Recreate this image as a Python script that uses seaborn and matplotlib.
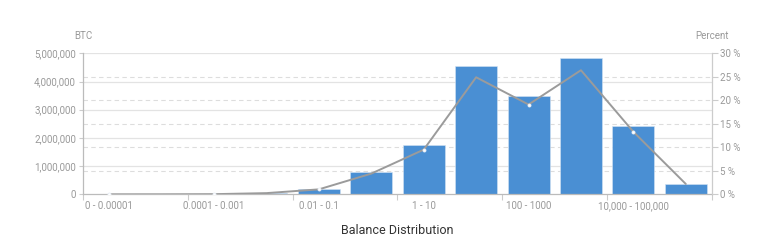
import matplotlib
matplotlib.use("Agg")
import matplotlib.pyplot as plt
import seaborn as sns
import numpy as np
from matplotlib.ticker import FuncFormatter, FixedLocator, MultipleLocator

categories = ["0 - 0.00001", "0.00001 - 0.0001", "0.0001 - 0.001", "0.001 - 0.01",
              "0.01 - 0.1", "0.1 - 1", "1 - 10", "10 - 100", "100 - 1000",
              "1,000 - 10,000", "10,000 - 100,000", "100,000 - 1,000,000"]
btc = [0, 0, 3000, 40000, 190000, 790000, 1750000, 4560000, 3500000,
       4840000, 2430000, 365000]
percent = [0.0, 0.003, 0.03, 0.25, 1.05, 4.4, 9.5, 24.9, 19.1, 26.4, 13.3, 2.2]
shown_labels = ["0 - 0.00001", "0.0001 - 0.001", "0.01 - 0.1", "1 - 10",
                "100 - 1000", "10,000 - 100,000"]

sns.set_theme(style="white")
plt.rcParams['font.family'] = ['Roboto', 'DejaVu Sans']

fig = plt.figure(figsize=(7.68, 2.5), dpi=100)
ax = fig.add_axes([83/768, 1-194.3/250, (712-83)/768, (194.3-53.3)/250])
ax2 = ax.twinx()

grey = "#999999"
BTC_MAX = 5000000
PCT_MAX = 30
ax.set_ylim(0, BTC_MAX)
ax2.set_ylim(0, PCT_MAX)
ax.set_xlim(-0.5, len(categories) - 0.5)

# grids (both drawn behind the bars on the primary axis)
for v in range(1000000, BTC_MAX + 1, 1000000):
    ax.axhline(v, color="#e3e3e3", lw=0.9, zorder=0)
for p in range(5, PCT_MAX, 5):
    ax.axhline(p / PCT_MAX * BTC_MAX, color="#dddddd", lw=0.8, ls=(0, (4, 3)), zorder=0)

sns.barplot(x=categories, y=btc, ax=ax, color="#4a8fd3", saturation=1,
            width=0.8, edgecolor="#d4e3f3", linewidth=0.4, zorder=2)
ax.set_xlim(-0.5, len(categories) - 0.5)

sns.pointplot(x=categories, y=percent, ax=ax2, color="#9b9b9b", markers="o",
              markersize=2.2, linewidth=1.4, markerfacecolor="white",
              markeredgecolor="#e8eef6", markeredgewidth=0.6, markevery=2, zorder=3)
ax2.set_xlim(-0.5, len(categories) - 0.5)
ax2.set_ylim(0, PCT_MAX)

# x ticks
pos = [categories.index(l) for l in shown_labels]
ax.xaxis.set_major_locator(FixedLocator(pos))
ax.set_xticklabels(shown_labels)
ax.xaxis.set_minor_locator(FixedLocator(np.arange(-0.5, len(categories), 2)))
ax.tick_params(axis="x", which="major", length=0, pad=5, labelsize=7, labelcolor=grey)
ax.tick_params(axis="x", which="minor", length=4, width=0.8, color="#cccccc", bottom=True)

ax.yaxis.set_major_locator(MultipleLocator(1000000))
ax.yaxis.set_major_formatter(FuncFormatter(lambda v, p: f"{int(v):,}"))
ax.tick_params(axis="y", length=3, width=0.8, color="#cccccc", labelsize=7,
               labelcolor=grey, pad=2, left=True)
ax2.yaxis.set_major_locator(MultipleLocator(5))
ax2.yaxis.set_major_formatter(FuncFormatter(lambda v, p: f"{int(v)} %"))
ax2.tick_params(axis="y", length=4, width=0.8, color="#cccccc", labelsize=7,
                labelcolor=grey, pad=2, right=True)
ax2.set_xlabel("")
ax.set_xlabel("")
ax.set_ylabel("")
ax2.set_ylabel("")

for a in (ax, ax2):
    a.spines["top"].set_visible(False)
for s in ("left", "bottom"):
    ax.spines[s].set_color("#bbbbbb")
    ax.spines[s].set_linewidth(0.9)
ax.spines["right"].set_visible(False)
ax2.spines["left"].set_visible(False)
ax2.spines["bottom"].set_visible(False)
ax2.spines["right"].set_color("#cccccc")
ax2.spines["right"].set_linewidth(0.9)

fig.text(83/768, 1-36/250, "BTC", ha="center", va="center", fontsize=7, color=grey)
fig.text(712/768, 1-36/250, "Percent", ha="center", va="center", fontsize=7, color=grey)
fig.text(397/768, 1-230/250, "Balance Distribution", ha="center", va="center",
         fontsize=9, color="#333333")

fig.savefig("out.png", dpi=100)
